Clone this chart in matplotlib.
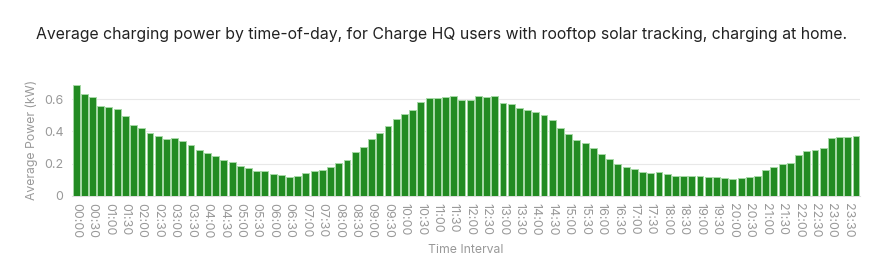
import matplotlib
matplotlib.use("Agg")
import matplotlib.pyplot as plt

plt.rcParams['font.family'] = ['Inter', 'DejaVu Sans']

# 15-minute intervals across the day
times = ["%02d:%02d" % (h, m) for h in range(24) for m in (0, 15, 30, 45)]

power = [
    0.685, 0.631, 0.615, 0.561, 0.549, 0.538, 0.493, 0.441, 0.422, 0.393,
    0.373, 0.352, 0.362, 0.342, 0.319, 0.284, 0.267, 0.246, 0.222, 0.209,
    0.184, 0.174, 0.157, 0.157, 0.137, 0.128, 0.120, 0.124, 0.143, 0.153,
    0.161, 0.180, 0.203, 0.222, 0.271, 0.306, 0.352, 0.393, 0.431, 0.476,
    0.509, 0.532, 0.582, 0.605, 0.609, 0.611, 0.619, 0.596, 0.598, 0.621,
    0.615, 0.617, 0.576, 0.571, 0.545, 0.532, 0.518, 0.501, 0.470, 0.422,
    0.383, 0.348, 0.329, 0.300, 0.259, 0.228, 0.197, 0.182, 0.168, 0.151,
    0.143, 0.147, 0.139, 0.124, 0.124, 0.124, 0.124, 0.118, 0.118, 0.110,
    0.108, 0.110, 0.116, 0.122, 0.164, 0.178, 0.197, 0.207, 0.255, 0.280,
    0.288, 0.298, 0.360, 0.366, 0.366, 0.371,
]

yticks = [0, 0.2, 0.4, 0.6]
ytick_labels = ["0", "0.2", "0.4", "0.6"]

grey = "#999999"

fig = plt.figure(figsize=(8.84, 2.68), dpi=100)
ax = fig.add_axes([0.0814, 0.2687, 0.8916, 0.4213])

x = list(range(len(times)))
ax.bar(x, power, width=0.84, color="#228B22", edgecolor="#a6d8a6", linewidth=0.7, zorder=3)

ax.set_xlim(-0.5, len(times) - 0.5)
ax.set_ylim(0, 0.7)
ax.set_yticks(yticks)
ax.set_yticklabels(ytick_labels)
ax.set_xticks(x[::2])
ax.set_xticklabels(times[::2], rotation=-90, fontsize=9, color=grey)
ax.tick_params(axis='y', labelsize=9, colors=grey, length=0, pad=6)
ax.tick_params(axis='x', length=0, pad=5)

ax.grid(axis='y', color="#e8e8e8", linewidth=0.8, zorder=0)
for s in ("top", "right", "left"):
    ax.spines[s].set_visible(False)
ax.spines["bottom"].set_color("#dddddd")

ax.set_ylabel("Average Power (kW)", fontsize=8.8, color=grey)
ax.set_xlabel("Time Interval", fontsize=8.8, color=grey, labelpad=4)

fig.text(0.5, 0.873, "Average charging power by time-of-day, for Charge HQ users with rooftop solar tracking, charging at home.",
         ha="center", va="center", fontsize=11.4, color="#222222")

fig.savefig("out.png", dpi=100)
